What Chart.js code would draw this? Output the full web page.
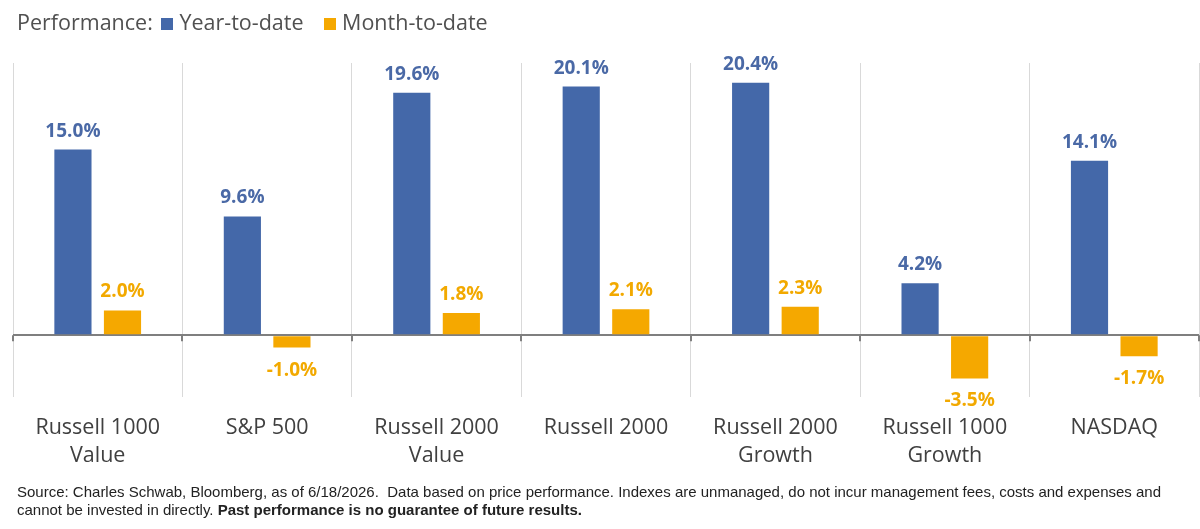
<!DOCTYPE html>
<html>
<head>
<meta charset="utf-8">
<script src="https://cdn.jsdelivr.net/npm/chart.js@4/dist/chart.umd.min.js"></script>
<style>
  html, body { margin: 0; padding: 0; background: #ffffff; }
  #wrap { position: relative; width: 1200px; height: 529px; overflow: hidden; }
  #c { position: absolute; left: 0; top: 0; }
  #legend { position: absolute; left: 17px; top: 7px; font-family: "Open Sans", sans-serif; font-size: 21.5px; color: #505050; white-space: nowrap; }
  #legend .sw { display: inline-block; width: 12px; height: 12px; margin: 0 6px 0 3px; vertical-align: 0px; }
  #footer { position: absolute; left: 17px; top: 483px; font-family: "Liberation Sans", Arial, sans-serif; font-size: 15px; line-height: 18px; color: #222; white-space: nowrap; }
</style>
</head>
<body>
<div id="wrap">
  <canvas id="c" width="1200" height="529"></canvas>
  <div id="legend">Performance: <span class="sw" style="background:#4468A9"></span>Year-to-date <span style="display:inline-block;width:12px"></span><span class="sw" style="background:#F5A800"></span>Month-to-date</div>
  <div id="footer">Source: Charles Schwab, Bloomberg, as of 6/18/2026.&nbsp; Data based on price performance. Indexes are unmanaged, do not incur management fees, costs and expenses and<br>cannot be invested in directly. <b>Past performance is no guarantee of future results.</b></div>
</div>
<script>
const categories = [
  ["Russell 1000", "Value"],
  ["S&P 500"],
  ["Russell 2000", "Value"],
  ["Russell 2000"],
  ["Russell 2000", "Growth"],
  ["Russell 1000", "Growth"],
  ["NASDAQ"]
];
const seriesNames = ["Year-to-date", "Month-to-date"];
const ytdValues = [15.0, 9.6, 19.6, 20.1, 20.4, 4.2, 14.1];
const mtdValues = [2.0, -1.0, 1.8, 2.1, 2.3, -3.5, -1.7];

const BLUE = "#4468A9";
const ORANGE = "#F5A800";
const BLUE_TXT = "#4A69A6";
const ORANGE_TXT = "#F2A900";

const zeroTicks = {
  id: "zeroTicks",
  afterDatasetsDraw(chart) {
    const x = chart.scales.x, y = chart.scales.y;
    const ctx = chart.ctx;
    const y0 = y.getPixelForValue(0);
    const n = chart.data.labels.length;
    const w = (x.right - x.left) / n;
    ctx.save();
    ctx.strokeStyle = "#7f7f7f";
    ctx.lineWidth = 2;
    for (let i = 0; i <= n; i++) {
      const px = Math.round(x.left + i * w);
      ctx.beginPath();
      ctx.moveTo(px, y0);
      ctx.lineTo(px, y0 + 6);
      ctx.stroke();
    }
    ctx.restore();
  }
};

const dataLabels = {
  id: "dataLabels",
  afterDatasetsDraw(chart) {
    const ctx = chart.ctx;
    ctx.save();
    ctx.font = "bold 19px 'Open Sans', sans-serif";
    ctx.textAlign = "center";
    chart.data.datasets.forEach((ds, di) => {
      const meta = chart.getDatasetMeta(di);
      ctx.fillStyle = di === 0 ? BLUE_TXT : ORANGE_TXT;
      meta.data.forEach((el, i) => {
        const v = ds.data[i];
        const t = v.toFixed(1) + "%";
        if (v >= 0) {
          ctx.textBaseline = "alphabetic";
          ctx.fillText(t, el.x, el.y - 13);
        } else {
          ctx.textBaseline = "top";
          ctx.fillText(t, el.x, el.y + 13);
        }
      });
    });
    ctx.restore();
  }
};

new Chart(document.getElementById("c"), {
  type: "bar",
  data: {
    labels: categories,
    datasets: [
      { label: seriesNames[0], data: ytdValues, backgroundColor: BLUE },
      { label: seriesNames[1], data: mtdValues, backgroundColor: ORANGE }
    ]
  },
  options: {
    responsive: false,
    animation: false,
    devicePixelRatio: 1,
    layout: { padding: { left: 13, right: 1, top: 63, bottom: 42 } },
    plugins: { legend: { display: false }, tooltip: { enabled: false } },
    datasets: { bar: { categoryPercentage: 0.585, barPercentage: 0.75 } },
    scales: {
      x: {
        grid: { offset: true, color: "#d9d9d9", lineWidth: 1, drawTicks: false },
        border: { display: false },
        ticks: {
          padding: 17,
          color: "#404040",
          font: { family: "'Open Sans', sans-serif", size: 21.5, lineHeight: 1.3 },
          maxRotation: 0,
          autoSkip: false
        }
      },
      y: {
        min: -5,
        max: 22,
        ticks: { display: false, stepSize: 1 },
        border: { display: false },
        grid: {
          drawTicks: false,
          color: (c) => (c.tick && c.tick.value === 0 ? "#7f7f7f" : "rgba(0,0,0,0)"),
          lineWidth: (c) => (c.tick && c.tick.value === 0 ? 2 : 0)
        }
      }
    }
  },
  plugins: [zeroTicks, dataLabels]
});
</script>
</body>
</html>
